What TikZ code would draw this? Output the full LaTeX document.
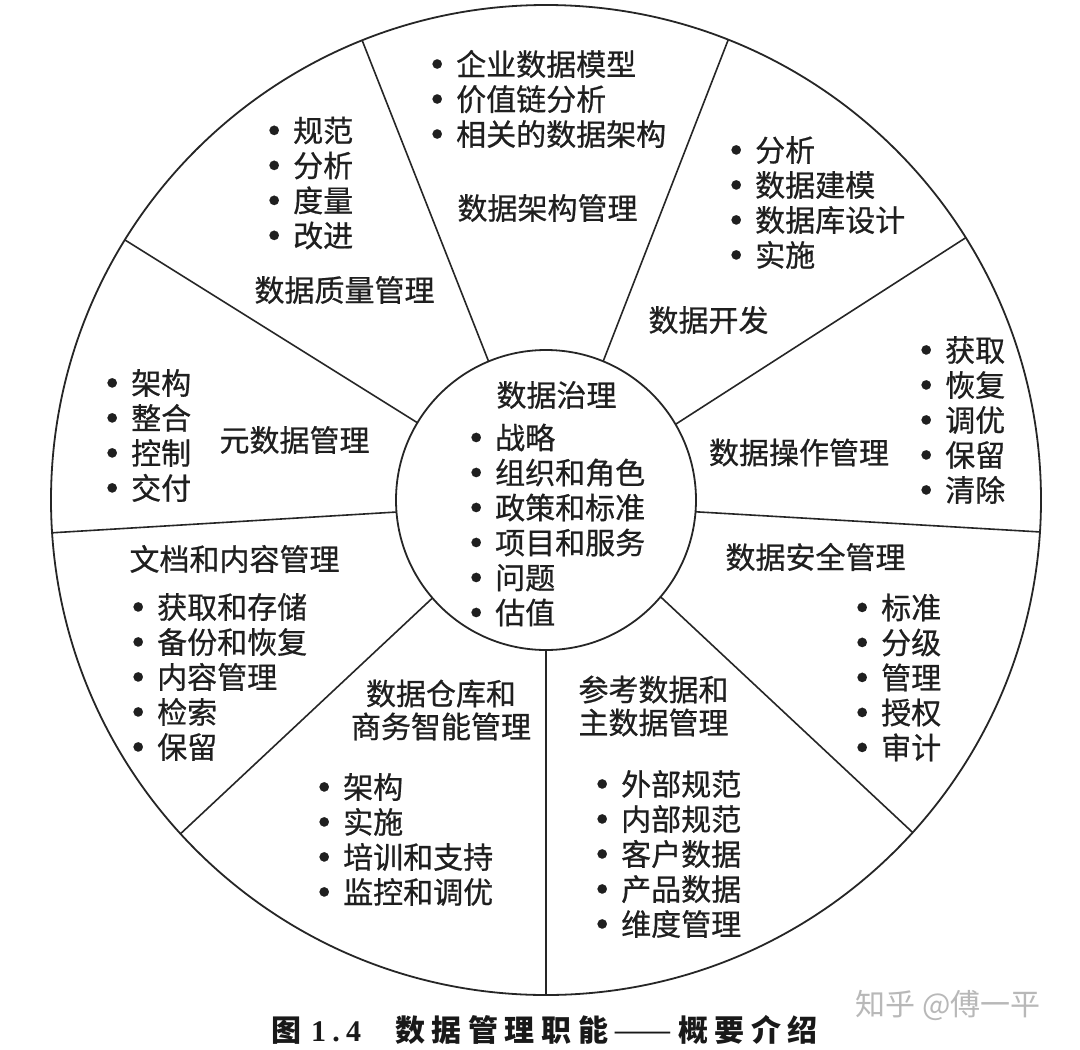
\documentclass[tikz,border=0pt]{standalone}
\usepackage{fontspec}
\usetikzlibrary{calc}
\setmainfont{Noto Sans CJK SC}[FakeBold=0.7]
\newfontfamily\capfont{Noto Sans CJK SC}[LetterSpace=22]
\newfontfamily\dashfont{Noto Sans CJK SC}
\newfontfamily\numfont{Liberation Serif}
\newcommand\bu{\makebox[0pt][c]{\raisebox{7.5pt}{\fontsize{10.5}{10.5}\selectfont ●}}\hspace{19pt}}
\begin{document}
\begin{tikzpicture}[x=1pt,y=1pt,
  lbl/.style={font=\fontsize{30}{33}\selectfont, inner sep=0pt, text=black!88, align=center},
  lst/.style={font=\fontsize{30}{35}\selectfont, inner sep=0pt, text=black!88, align=left, anchor=west},
  ring/.style={line width=1.8pt, draw=black!85},
  spoke/.style={line width=1.6pt, draw=black!85}]
\useasboundingbox (0,0) rectangle (1080,-1050);
\fill[white] (0,0) rectangle (1080,-1050);
\coordinate (C) at (546,-500);
\draw[ring] (C) circle[radius=495pt];
\draw[ring] (C) circle[radius=150pt];
\foreach \n/\ai/\ao in {a/112.5/111.8, b/67.6/68.4, c/149/148.3, d/30.3/32, e/184.6/183.8, f/-4.5/-3.7, g/220.8/222.4, h/270/270, i/-40.2/-42.2}{
  \coordinate (in\n) at ($(C)+(\ai:150pt)$);
  \coordinate (out\n) at ($(C)+(\ao:495pt)$);
  \draw[spoke] (in\n) -- (out\n);
}
% centre
\node[lbl] (govT) at (556.5,-395) {数据治理};
\node[lst] (govL) at (476,-525) {\bu 战略\\\bu 组织和角色\\\bu 政策和标准\\\bu 项目和服务\\\bu 问题\\\bu 估值};
% top
\node[lst] (arcL) at (437,-99) {\bu 企业数据模型\\\bu 价值链分析\\\bu 相关的数据架构};
\node[lbl] (arcT) at (547.5,-208) {数据架构管理};
% top left
\node[lst] (quaL) at (274,-183) {\bu 规范\\\bu 分析\\\bu 度量\\\bu 改进};
\node[lbl] (quaT) at (344.5,-290) {数据质量管理};
% top right
\node[lst] (devL) at (736,-202.5) {\bu 分析\\\bu 数据建模\\\bu 数据库设计\\\bu 实施};
\node[lbl] (devT) at (708.5,-320) {数据开发};
% left
\node[lst] (metL) at (112,-435.5) {\bu 架构\\\bu 整合\\\bu 控制\\\bu 交付};
\node[lbl] (metT) at (294.5,-440) {元数据管理};
% right
\node[lst] (opsL) at (926,-420) {\bu 获取\\\bu 恢复\\\bu 调优\\\bu 保留\\\bu 清除};
\node[lbl] (opsT) at (799,-452.5) {数据操作管理};
% lower left
\node[lbl] (docT) at (234.5,-559) {文档和内容管理};
\node[lst] (docL) at (138,-677) {\bu 获取和存储\\\bu 备份和恢复\\\bu 内容管理\\\bu 检索\\\bu 保留};
% bottom left
\node[lbl] (dwT) at (441,-710) {数据仓库和\\商务智能管理};
\node[lst] (dwL) at (324,-839.5) {\bu 架构\\\bu 实施\\\bu 培训和支持\\\bu 监控和调优};
% bottom right
\node[lbl] (mdT) at (653.5,-706) {参考数据和\\主数据管理};
\node[lst] (mdL) at (602,-854) {\bu 外部规范\\\bu 内部规范\\\bu 客户数据\\\bu 产品数据\\\bu 维度管理};
% lower right
\node[lbl] (secT) at (815.5,-557) {数据安全管理};
\node[lst] (secL) at (862,-677.5) {\bu 标准\\\bu 分级\\\bu 管理\\\bu 授权\\\bu 审计};
% caption
\node[inner sep=0pt, anchor=west, text=black!90, font=\fontsize{30}{30}\selectfont\capfont\bfseries] (cap) at (271,-1030)
  {图\hspace{10pt}{\numfont\bfseries\makebox[50pt][s]{1\hfill.\hfill4}}\hspace{34pt}数据管理职能{\dashfont\mdseries\makebox[70pt][c]{\scalebox{1.17}[1]{——}}}概要介绍};
\node[inner sep=0pt, text=black!28, font=\fontsize{30}{30}\selectfont\dashfont] (wm) at (948,-1005) {知乎 @傅一平};
\end{tikzpicture}
\end{document}
